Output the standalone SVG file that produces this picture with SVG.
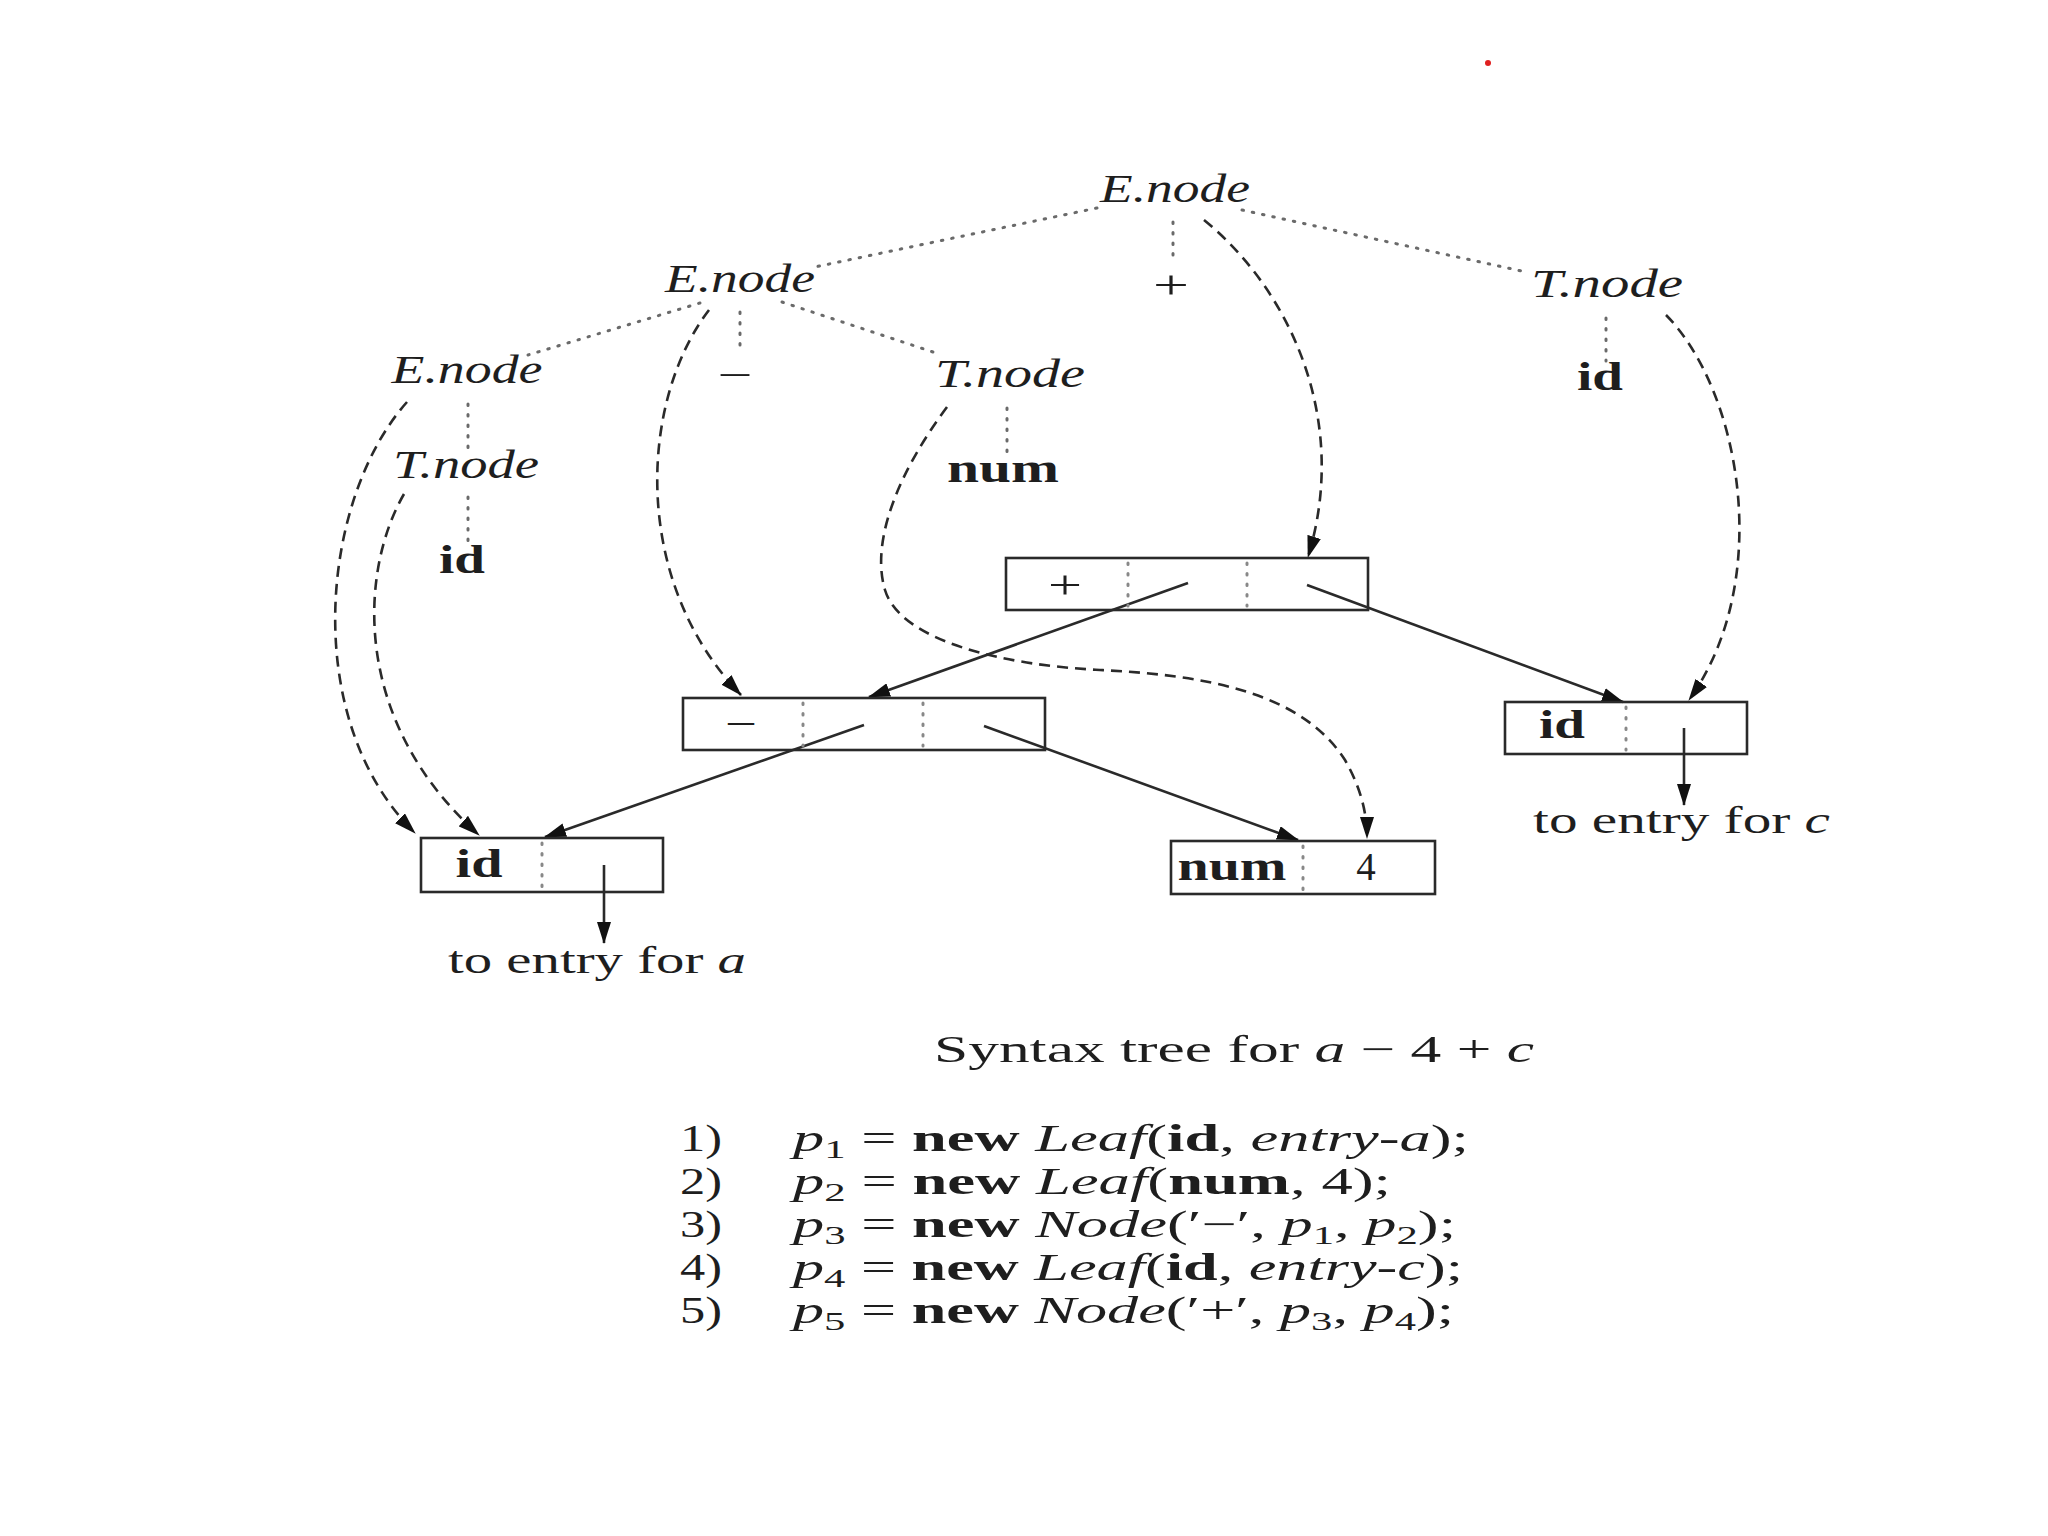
<svg xmlns="http://www.w3.org/2000/svg" width="2048" height="1536" viewBox="0 0 2048 1536">
<style>
text{font-family:"Liberation Serif","DejaVu Serif",serif;fill:#1e1e1e;}
.lbl{font-size:39px;text-anchor:middle;}
.it{font-style:italic;}
.bd{font-weight:bold;}
.code{font-size:38px;}
.sub{font-size:26px;font-style:normal;}
.box{fill:none;stroke:#2a2a2a;stroke-width:2.6;}
.div{stroke:#888;stroke-width:3;stroke-dasharray:1.5 9;stroke-linecap:round;fill:none;}
.dot{stroke:#6a6a6a;stroke-width:3;stroke-dasharray:1.5 9;stroke-linecap:round;fill:none;}
.dash{stroke:#2a2a2a;stroke-width:2.6;stroke-dasharray:11 7;fill:none;marker-end:url(#ah);}
.solid{stroke:#2a2a2a;stroke-width:2.6;fill:none;marker-end:url(#ah);}
</style>
<defs>
<marker id="ah" viewBox="0 0 22 14" refX="21" refY="7" markerWidth="22" markerHeight="14" markerUnits="userSpaceOnUse" orient="auto">
<path d="M0,0 L22,7 L0,14 z" fill="#111"/>
</marker>
</defs>
<rect x="0" y="0" width="2048" height="1536" fill="#ffffff"/>
<circle cx="1488" cy="63" r="3" fill="#e02020"/>

<g id="connectors">
<!-- dotted parse tree edges -->
<path class="dot" d="M1097,208 L810,268"/>
<path class="dot" d="M1242,210 L1526,272"/>
<path class="dot" d="M1173,222 L1173,264"/>
<path class="dot" d="M700,303 L528,355"/>
<path class="dot" d="M740,312 L740,354"/>
<path class="dot" d="M782,302 L936,353"/>
<path class="dot" d="M468,404 L468,448"/>
<path class="dot" d="M468,497 L468,541"/>
<path class="dot" d="M1007,408 L1007,452"/>
<path class="dot" d="M1606,318 L1606,361"/>
<!-- dashed attribute pointers -->
<path class="dash" d="M407,402 C320,500 300,720 415,833"/>
<path class="dash" d="M404,494 C360,570 350,720 479,835"/>
<path class="dash" d="M709,310 C640,400 630,580 741,695"/>
<path class="dash" d="M947,407 C900,470 870,540 885,590 C900,640 1000,665 1100,670 C1200,675 1300,690 1345,760 C1362,790 1367,815 1367,838"/>
<path class="dash" d="M1204,220 C1290,290 1350,420 1308,557"/>
<path class="dash" d="M1666,315 C1740,390 1775,580 1689,700"/>
<!-- solid syntax tree pointers -->
<path class="solid" d="M1188,583 L869,697"/>
<path class="solid" d="M1307,585 L1623,702"/>
<path class="solid" d="M864,725 L545,837"/>
<path class="solid" d="M984,726 L1298,840"/>
<path class="solid" d="M604,865 L604,943"/>
<path class="solid" d="M1684,728 L1684,805"/>
</g>

<g id="tree-labels">
<g id="E-node-root"><text class="lbl it" x="1175" y="202" textLength="150" lengthAdjust="spacingAndGlyphs">E.node</text></g>
<g id="plus-leaf"><text class="lbl" x="1171" y="298" textLength="36" lengthAdjust="spacingAndGlyphs">+</text></g>
<g id="T-node-right"><text class="lbl it" x="1607" y="297" textLength="152" lengthAdjust="spacingAndGlyphs">T.node</text></g>
<g id="id-right"><text class="lbl bd" x="1600" y="390" textLength="46" lengthAdjust="spacingAndGlyphs">id</text></g>
<g id="E-node-mid"><text class="lbl it" x="740" y="292" textLength="150" lengthAdjust="spacingAndGlyphs">E.node</text></g>
<g id="minus-leaf"><text class="lbl" x="735" y="388" textLength="35" lengthAdjust="spacingAndGlyphs">−</text></g>
<g id="T-node-mid"><text class="lbl it" x="1010" y="387" textLength="150" lengthAdjust="spacingAndGlyphs">T.node</text></g>
<g id="num-leaf"><text class="lbl bd" x="1003" y="482" textLength="112" lengthAdjust="spacingAndGlyphs">num</text></g>
<g id="E-node-left"><text class="lbl it" x="467" y="383" textLength="151" lengthAdjust="spacingAndGlyphs">E.node</text></g>
<g id="T-node-left"><text class="lbl it" x="466" y="478" textLength="146" lengthAdjust="spacingAndGlyphs">T.node</text></g>
<g id="id-left"><text class="lbl bd" x="462" y="573" textLength="46" lengthAdjust="spacingAndGlyphs">id</text></g>
</g>

<g id="box-plus">
<rect class="box" x="1006" y="558" width="362" height="52"/>
<path class="div" d="M1128,563 L1128,606 M1247,563 L1247,606"/>
<text class="lbl" x="1065" y="598" textLength="34" lengthAdjust="spacingAndGlyphs">+</text>
</g>
<g id="box-minus">
<rect class="box" x="683" y="698" width="362" height="52"/>
<path class="div" d="M803,703 L803,746 M923,703 L923,746"/>
<text class="lbl" x="741" y="737" textLength="32" lengthAdjust="spacingAndGlyphs">−</text>
</g>
<g id="box-id-a">
<rect class="box" x="421" y="838" width="242" height="54"/>
<path class="div" d="M542,843 L542,888"/>
<text class="lbl bd" x="479" y="877" textLength="47" lengthAdjust="spacingAndGlyphs">id</text>
</g>
<g id="box-num">
<rect class="box" x="1171" y="841" width="264" height="53"/>
<path class="div" d="M1303,846 L1303,890"/>
<text class="lbl bd" x="1232" y="880" textLength="109" lengthAdjust="spacingAndGlyphs">num</text>
<text class="lbl" x="1366" y="880">4</text>
</g>
<g id="box-id-c">
<rect class="box" x="1505" y="702" width="242" height="52"/>
<path class="div" d="M1626,707 L1626,750"/>
<text class="lbl bd" x="1562" y="738" textLength="46" lengthAdjust="spacingAndGlyphs">id</text>
</g>

<g id="entry-a"><text class="code" x="448" y="973" font-size="37" textLength="298" lengthAdjust="spacingAndGlyphs">to entry for <tspan class="it">a</tspan></text></g>
<g id="entry-c"><text class="code" x="1533" y="833" font-size="37" textLength="297" lengthAdjust="spacingAndGlyphs">to entry for <tspan class="it">c</tspan></text></g>

<g id="caption"><text class="code" x="934" y="1062" textLength="600" lengthAdjust="spacingAndGlyphs">Syntax tree for <tspan class="it">a</tspan> − 4 + <tspan class="it">c</tspan></text></g>

<g id="code">
<text class="code" x="680" y="1151" textLength="42" lengthAdjust="spacingAndGlyphs">1)</text>
<text class="code" x="680" y="1194" textLength="42" lengthAdjust="spacingAndGlyphs">2)</text>
<text class="code" x="680" y="1237" textLength="42" lengthAdjust="spacingAndGlyphs">3)</text>
<text class="code" x="680" y="1280" textLength="42" lengthAdjust="spacingAndGlyphs">4)</text>
<text class="code" x="680" y="1323" textLength="42" lengthAdjust="spacingAndGlyphs">5)</text>
<text class="code" x="793" y="1151" textLength="676" lengthAdjust="spacingAndGlyphs"><tspan class="it">p</tspan><tspan class="sub" dy="7">1</tspan><tspan dy="-7"> = </tspan><tspan class="bd">new</tspan> <tspan class="it">Leaf</tspan>(<tspan class="bd">id</tspan>, <tspan class="it">entry-a</tspan>);</text>
<text class="code" x="793" y="1194" textLength="598" lengthAdjust="spacingAndGlyphs"><tspan class="it">p</tspan><tspan class="sub" dy="7">2</tspan><tspan dy="-7"> = </tspan><tspan class="bd">new</tspan> <tspan class="it">Leaf</tspan>(<tspan class="bd">num</tspan>, 4);</text>
<text class="code" x="793" y="1237" textLength="663" lengthAdjust="spacingAndGlyphs"><tspan class="it">p</tspan><tspan class="sub" dy="7">3</tspan><tspan dy="-7"> = </tspan><tspan class="bd">new</tspan> <tspan class="it">Node</tspan>(′−′, <tspan class="it">p</tspan><tspan class="sub" dy="7">1</tspan><tspan dy="-7">, </tspan><tspan class="it">p</tspan><tspan class="sub" dy="7">2</tspan><tspan dy="-7">);</tspan></text>
<text class="code" x="793" y="1280" textLength="670" lengthAdjust="spacingAndGlyphs"><tspan class="it">p</tspan><tspan class="sub" dy="7">4</tspan><tspan dy="-7"> = </tspan><tspan class="bd">new</tspan> <tspan class="it">Leaf</tspan>(<tspan class="bd">id</tspan>, <tspan class="it">entry-c</tspan>);</text>
<text class="code" x="793" y="1323" textLength="661" lengthAdjust="spacingAndGlyphs"><tspan class="it">p</tspan><tspan class="sub" dy="7">5</tspan><tspan dy="-7"> = </tspan><tspan class="bd">new</tspan> <tspan class="it">Node</tspan>(′+′, <tspan class="it">p</tspan><tspan class="sub" dy="7">3</tspan><tspan dy="-7">, </tspan><tspan class="it">p</tspan><tspan class="sub" dy="7">4</tspan><tspan dy="-7">);</tspan></text>
</g>
</svg>
